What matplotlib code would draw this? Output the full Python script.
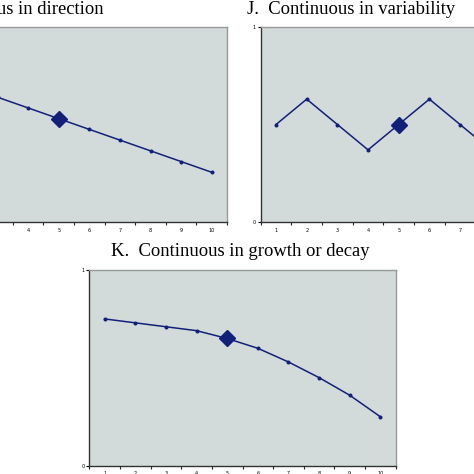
import matplotlib
matplotlib.use("Agg")
import matplotlib.pyplot as plt
import numpy as np

# category positions shared by the three panels
steps = [1, 2, 3, 4, 5, 6, 7, 8, 9, 10]
step_labels = ["1", "2", "3", "4", "5", "6", "7", "8", "9", "10"]
highlight = 5

# values (0..1 scale)
direction = [0.75, 0.695, 0.64, 0.585, 0.53, 0.475, 0.42, 0.365, 0.31, 0.255]
variability = [0.5, 0.63, 0.5, 0.37, 0.5, 0.63, 0.5, 0.37, 0.5, 0.63]
growth = [0.75, 0.73, 0.71, 0.69, 0.65, 0.60, 0.53, 0.45, 0.36, 0.25]

titles = ["I.  Continuous in direction", "J.  Continuous in variability",
          "K.  Continuous in growth or decay"]

face = "#d2dbda"
navy = "#13207a"

fig = plt.figure(figsize=(4.74, 4.74), dpi=100)


def panel(rect, vals):
    ax = fig.add_axes(rect)
    ax.set_facecolor(face)
    ax.plot(steps, vals, color=navy, lw=1.1, marker="o", ms=1.9, zorder=3)
    i = steps.index(highlight)
    ax.plot([steps[i]], [vals[i]], marker="D", ms=8.5, color=navy,
            ls="none", zorder=4)
    ax.set_xlim(0.5, 10.5)
    ax.set_ylim(0, 1)
    ax.set_xticks(steps)
    ax.set_xticklabels(step_labels)
    ax.set_xticks(np.arange(0.5, 11, 1), minor=True)
    ax.tick_params(axis="x", which="major", length=0, pad=4,
                   labelsize=3.5)
    ax.tick_params(axis="x", which="minor", length=2, width=0.8,
                   direction="out", color="#222222")
    ax.set_yticks([0, 1])
    ax.set_yticklabels(["0", "1"])
    ax.tick_params(axis="y", length=2, width=0.8, labelsize=3.5, pad=1.5)
    for s in ["left", "bottom"]:
        ax.spines[s].set_color("#333333")
        ax.spines[s].set_linewidth(1.0)
    for s in ["top", "right"]:
        ax.spines[s].set_color("#999999")
        ax.spines[s].set_linewidth(1.0)
    return ax


W = 474.0
panel([-79 / W, 1 - 222 / W, 306 / W, 195 / W], direction)
panel([260.7 / W, 1 - 222 / W, 306.7 / W, 195 / W], variability)
panel([89.3 / W, 1 - 465.7 / W, 306.4 / W, 195.7 / W], growth)

tfont = dict(family="Liberation Serif", size=13.4, va="baseline")
fig.text(104 / W, 1 - 13.5 / W, titles[0], ha="right", **tfont)
fig.text(247 / W, 1 - 14 / W, titles[1], ha="left", **tfont)
fig.text(111 / W, 1 - 256.5 / W, titles[2], ha="left", **tfont)

fig.savefig("out.png", dpi=100)
